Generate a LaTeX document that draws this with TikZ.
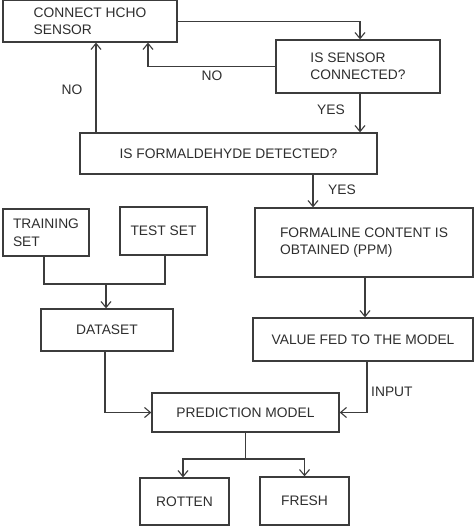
\documentclass[tikz,border=0pt]{standalone}
\usepackage{fontspec}
\setmainfont{Liberation Sans}
\usetikzlibrary{arrows.meta}
\definecolor{ln}{HTML}{3C3C3C}
\definecolor{tx}{HTML}{2E2E2E}
\tikzset{
  box/.style={draw=ln, line width=1.3pt, fill=white, text=tx, align=left,
    inner sep=0pt, font=\fontsize{13.8}{17.5}\selectfont},
  conn/.style={draw=ln, line width=1.3pt},
  arr/.style={conn, -{Straight Barb[length=6pt,width=10pt,line width=1.1pt]}},
  lbl/.style={text=tx, inner sep=0pt, font=\fontsize{13.8}{16}\selectfont}
}
\begin{document}
\begin{tikzpicture}[x=1pt,y=-1pt]
\useasboundingbox (0,0) rectangle (474,526);
\node[box, minimum width=174pt, minimum height=41.5pt] (b1) at (90,21.25) {CONNECT HCHO\\SENSOR};
\node[box, minimum width=164pt, minimum height=53pt] (b2) at (358,66.5) {IS SENSOR\\CONNECTED?};
\node[box, minimum width=297pt, minimum height=41pt] (b3) at (228.5,153.5) {IS FORMALDEHYDE DETECTED?};
\node[box, minimum width=86pt, minimum height=47pt] (tr) at (46,232.5) {TRAINING\\SET};
\node[box, minimum width=87pt, minimum height=48pt] (te) at (163.5,231) {TEST SET};
\node[box, minimum width=218pt, minimum height=69pt] (b4) at (364,242.5) {FORMALINE CONTENT IS\\OBTAINED (PPM)};
\node[box, minimum width=132pt, minimum height=42pt] (ds) at (107,330) {DATASET};
\node[box, minimum width=220pt, minimum height=43pt] (val) at (363,339.5) {VALUE FED TO THE MODEL};
\node[box, minimum width=187pt, minimum height=39pt] (pred) at (245.5,412.5) {PREDICTION MODEL};
\node[box, minimum width=89pt, minimum height=47pt] (rot) at (184.5,501.5) {ROTTEN};
\node[box, minimum width=89pt, minimum height=48pt] (fr) at (304.5,501) {FRESH};

% labels
\node[lbl] (no1) at (212,76) {NO};
\node[lbl] (no2) at (72,90) {NO};
\node[lbl] (yes1) at (331,110) {YES};
\node[lbl] (yes2) at (342,190) {YES};
\node[lbl, anchor=west] (inp) at (371,392) {INPUT};

% connectors
\draw[arr] (b1.east) -| ([xshift=2pt]b2.north);
\draw[arr] (b2.west) -| ([xshift=58pt]b1.south);
\draw[arr] ([xshift=-132.5pt]b3.north) coordinate (p) -- (p |- b1.south);
\draw[arr] ([xshift=2pt]b2.south) coordinate (q) -- (q |- b3.north);
\draw[arr] ([xshift=84.5pt]b3.south) coordinate (r) -- (r |- b4.north);
\coordinate (m) at (106,284);
\draw[conn] ([xshift=-2pt]tr.south) |- (m) -| ([xshift=1.5pt]te.south);
\draw[arr] (m) -- (m |- ds.north);
\draw[arr] ([xshift=1pt]b4.south) coordinate (v) -- (v |- val.north);
\draw[arr] ([xshift=4pt]val.south) |- (pred.east);
\draw[arr] ([xshift=-2pt]ds.south) |- (pred.west);
\coordinate (s) at (245.5,459);
\draw[conn] (pred.south) -- (s);
\draw[arr] (s) -| ([xshift=-1.5pt]rot.north);
\draw[arr] (s) -| (fr.north);
\end{tikzpicture}
\end{document}
